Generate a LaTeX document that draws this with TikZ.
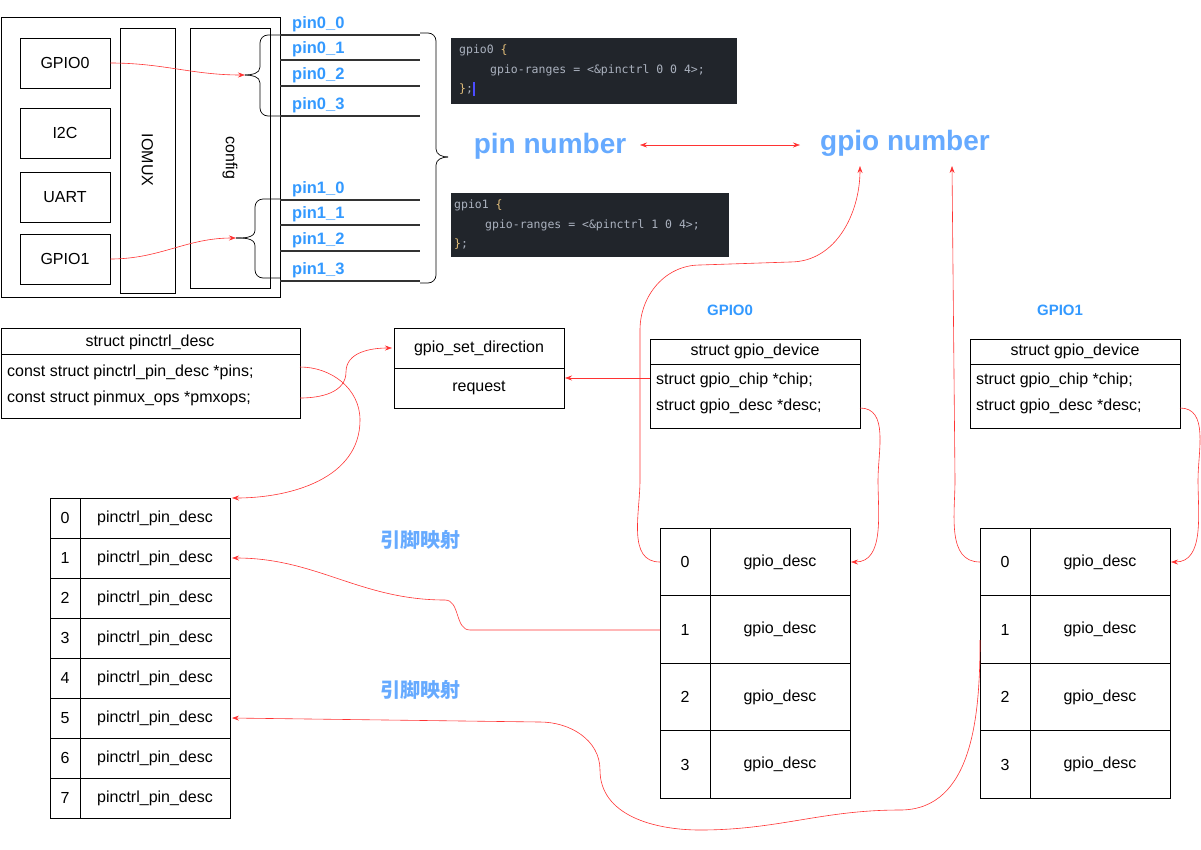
\documentclass[tikz,border=0pt]{standalone}
\usepackage{fontspec}
\setmainfont{Liberation Sans}
\newfontfamily\cjk{Noto Sans CJK SC}
\newfontfamily\codef{DejaVu Sans Mono}
\usetikzlibrary{arrows.meta,decorations.pathreplacing}
\definecolor{blu}{HTML}{3399FF}
\definecolor{lblu}{HTML}{66AAFF}
\definecolor{codebg}{HTML}{21252B}
\definecolor{codefg}{HTML}{ABB2BF}
\definecolor{codey}{HTML}{E5C07B}
\definecolor{red}{HTML}{FF3333}
\begin{document}
\begin{tikzpicture}[x=1pt,y=-1pt,
 box/.style={draw,line width=0.8pt},
 lbl/.style={font=\fontsize{16}{18}\selectfont,inner sep=0},
 pin/.style={font=\bfseries\fontsize{16.5}{18}\selectfont,text=blu,anchor=south west,inner sep=0},
 pl/.style={line width=1.6pt,draw=black!80},
 ra/.style={draw=red,-{Stealth[length=7pt,width=5pt]},line width=0.6pt},
 code/.style={font=\codef\fontsize{11.5}{13}\selectfont,text=codefg,anchor=west,inner sep=0},
 big/.style={font=\bfseries\fontsize{28}{32}\selectfont,text=lblu,inner sep=0},
 cn/.style={font=\cjk\bfseries\fontsize{20}{24}\selectfont,text=lblu,inner sep=0}]
\useasboundingbox (0,0) rectangle (1201,849);
% left block
\draw[box] (1,17) rectangle (280,297);
\node[box,minimum width=90pt,minimum height=50pt,lbl] (g0) at (65,63) {GPIO0};
\node[box,minimum width=90pt,minimum height=50pt,lbl] (i2c) at (65,133) {I2C};
\node[box,minimum width=90pt,minimum height=50pt,lbl] (uart) at (65,197) {UART};
\node[box,minimum width=90pt,minimum height=50pt,lbl] (g1) at (65,259) {GPIO1};
\draw[box] (120,28) rectangle (175,293);
\node[lbl,rotate=-90] (iomux) at (147.5,160) {IOMUX};
\draw[box] (190,28) rectangle (270,288);
\node[lbl,rotate=-90] (cfg) at (230,158) {config};
% pins
\foreach \y/\t in {35/pin0\_0,60/pin0\_1,86/pin0\_2,116/pin0\_3,200/pin1\_0,225/pin1\_1,251/pin1\_2,281/pin1\_3}{
 \draw[pl] (280,\y) -- (420,\y);
 \node[pin] at (292,\y-3) {\t};
}
\coordinate (b0) at (245,75);
\coordinate (b1) at (236,238);
\draw[line width=0.7pt] (280,35) -- (268,35) to[out=180,in=90] (260,43) -- (260,67) to[out=-90,in=0] (b0);
\draw[line width=0.7pt] (b0) to[out=0,in=90] (260,83) -- (260,108) to[out=-90,in=180] (268,116) -- (280,116);
\draw[line width=0.7pt] (280,199) -- (263,199) to[out=180,in=90] (255,207) -- (255,230) to[out=-90,in=0] (b1);
\draw[line width=0.7pt] (b1) to[out=0,in=90] (255,246) -- (255,270) to[out=-90,in=180] (263,278) -- (280,278);
\draw[line width=0.7pt] (420,33) -- (428,33) to[out=0,in=90] (436,41) -- (436,149) to[out=-90,in=180] (448,157);
\draw[line width=0.7pt] (448,157) to[out=180,in=90] (436,165) -- (436,275) to[out=-90,in=0] (428,283) -- (420,283);
\draw[ra] (g0.east) to[out=0,in=180] (b0);
\draw[ra] (g1.east) to[out=0,in=180] (b1);
% code blocks
\fill[codebg] (451,38) rectangle (737,104);
\node[code] (c0) at (459,50) {gpio0 \textcolor{codey}{\{}};
\node[code] at (490,70) {gpio-ranges = <\&pinctrl 0 0 4>;};
\node[code] at (459,89) {\textcolor{codey}{\}};};
\fill[blue!70] (473,82) rectangle (474.5,96);
\fill[codebg] (451,193) rectangle (729,257);
\node[code] (c1) at (454,205) {gpio1 \textcolor{codey}{\{}};
\node[code] at (485,225) {gpio-ranges = <\&pinctrl 1 0 4>;};
\node[code] at (454,244) {\textcolor{codey}{\}};};
\node[big] (pn) at (550,146) {pin number};
\node[big] (gn) at (905,143) {gpio number};
\draw[draw=red,{Stealth[length=7pt,width=5pt]}-{Stealth[length=7pt,width=5pt]},line width=0.6pt] (640,145) -- (800,145);
% pinctrl_desc
\draw[box] (1,328) rectangle (300,418);
\draw[box] (1,354) -- (300,354);
\node[lbl] (pdh) at (150,342) {struct pinctrl\_desc};
\node[lbl,anchor=west] (pins) at (7,372) {const struct pinctrl\_pin\_desc *pins;};
\node[lbl,anchor=west] (pmx) at (7,398) {const struct pinmux\_ops *pmxops;};
% ops
\draw[box] (394,328) rectangle (564,408);
\draw[box] (394,368) -- (564,368);
\node[lbl] (gsd) at (479,348) {gpio\_set\_direction};
\node[lbl] (req) at (479,388) {request};
% gpio devices
\node[font=\bfseries\fontsize{15}{18}\selectfont,text=blu] at (730,310) {GPIO0};
\node[font=\bfseries\fontsize{15}{18}\selectfont,text=blu] at (1060,310) {GPIO1};
\foreach \x/\n in {650/d0,970/d1}{
 \draw[box] (\x,339) rectangle (\x+210,428);
 \draw[box] (\x,364) -- (\x+210,364);
 \node[lbl] (\n h) at (\x+105,351) {struct gpio\_device};
 \node[lbl,anchor=west] (\n c) at (\x+6,380) {struct gpio\_chip *chip;};
 \node[lbl,anchor=west] (\n d) at (\x+6,406) {struct gpio\_desc *desc;};
}
% pinctrl array
\draw[box] (50,498) rectangle (230,818);
\draw[box] (80,498) -- (80,818);
\foreach \i in {0,...,7}{
 \ifnum\i>0 \draw[box] (50,498+40*\i) -- (230,498+40*\i);\fi
 \node[lbl] (pi\i) at (65,518+40*\i) {\i};
 \node[lbl] (pd\i) at (155,518+40*\i) {pinctrl\_pin\_desc};
}
% gpio_desc arrays
\foreach \x/\n in {660/a,980/b}{
 \draw[box] (\x,528) rectangle (\x+190,798);
 \draw[box] (\x+50,528) -- (\x+50,798);
 \foreach \i in {0,...,3}{
  \ifnum\i>0 \draw[box] (\x,528+67.5*\i) -- (\x+190,528+67.5*\i);\fi
  \node[lbl] (\n i\i) at (\x+25,562+67.5*\i) {\i};
  \node[lbl] (\n d\i) at (\x+120,562+67.5*\i) {gpio\_desc};
 }
}
\node[cn] (m1) at (420,540) {引脚映射};
\node[cn] (m2) at (420,690) {引脚映射};
% arrows
\draw[ra] (300,367) to[out=0,in=90] (360,420) to[out=-90,in=0] (232,498);
\draw[ra] (300,398) to[out=0,in=-90] (346,372) to[out=90,in=180] (392,348);
\draw[ra] (650,378) -- (565,378);
\draw[ra] (860,408) to[out=0,in=90] (878,480) to[out=-90,in=0] (851,562);
\draw[ra] (1180,408) to[out=0,in=90] (1198,480) to[out=-90,in=0] (1171,562);
\draw[ra] (660,562) to[out=180,in=-90] (640,480) -- (640,330) to[out=90,in=180] (700,265) -- (790,262) to[out=0,in=-90] (860,166);
\draw[ra] (980,562) to[out=180,in=-90] (955,480) -- (952,166);
\draw[ra] (660,630) -- (470,630) to[out=180,in=0] (445,600) to[out=180,in=0] (232,558);
\draw[ra] (980,640) to[out=-90,in=0] (900,810) to[out=180,in=0] (700,830) to[out=180,in=-90] (600,770) to[out=90,in=0] (540,722) -- (232,718);
\end{tikzpicture}
\end{document}
